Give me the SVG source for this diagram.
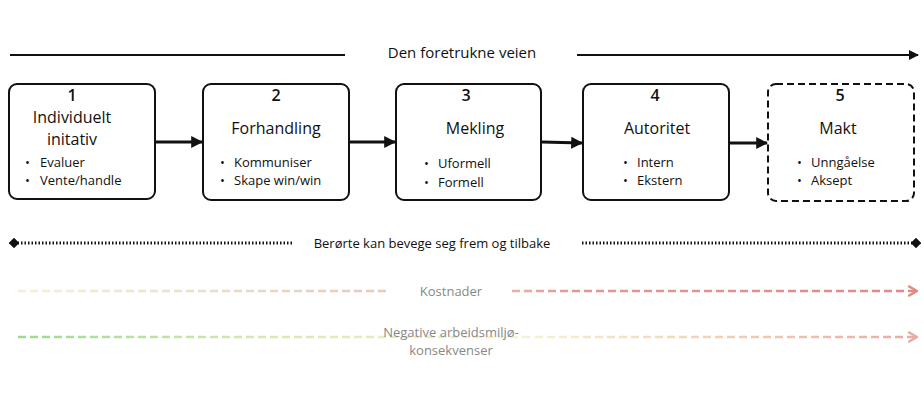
<svg xmlns="http://www.w3.org/2000/svg" width="924" height="400" viewBox="0 0 924 400">
<style>
text{font-family:"Open Sans","Liberation Sans",sans-serif;fill:#111}
.box{fill:#fff;stroke:#111;stroke-width:2}
.num{font-size:16px;text-anchor:middle;font-weight:600}
.title{font-size:16px;text-anchor:middle;font-weight:500}
.li{font-size:13px;font-weight:500}
.conn{stroke:#111;stroke-width:3;fill:none}
.gray{fill:#888;font-size:13px;text-anchor:middle}
</style>
<defs>
<marker id="ah" viewBox="0 0 10 10" refX="9" refY="5" markerWidth="4" markerHeight="4" orient="auto"><path d="M0,0L10,5L0,10z" fill="#111"/></marker>
<marker id="ah2" viewBox="0 0 10 10" refX="9" refY="5" markerWidth="5" markerHeight="5" orient="auto"><path d="M0,0L10,5L0,10z" fill="#111"/></marker>
<marker id="dia" viewBox="0 0 10 10" refX="5" refY="5" markerWidth="3.5" markerHeight="3.5" orient="auto"><path d="M0,5L5,0L10,5L5,10z" fill="#111"/></marker>
<marker id="ch1" viewBox="0 0 10 10" refX="9" refY="5" markerWidth="5" markerHeight="5" orient="auto"><path d="M2,1L9,5L2,9" fill="none" stroke="#e08a82" stroke-width="2"/></marker>
<marker id="ch2" viewBox="0 0 10 10" refX="9" refY="5" markerWidth="5" markerHeight="5" orient="auto"><path d="M2,1L9,5L2,9" fill="none" stroke="#eaaaa3" stroke-width="2"/></marker>
<linearGradient id="g1" gradientUnits="userSpaceOnUse" x1="18" y1="0" x2="390" y2="0"><stop offset="0" stop-color="#f8f0d6"/><stop offset="1" stop-color="#e9c7b3"/></linearGradient>
<linearGradient id="g2" gradientUnits="userSpaceOnUse" x1="512" y1="0" x2="918" y2="0"><stop offset="0" stop-color="#e7b0a2"/><stop offset="0.15" stop-color="#e29a8e"/><stop offset="1" stop-color="#e08a82"/></linearGradient>
<linearGradient id="g3" gradientUnits="userSpaceOnUse" x1="18" y1="0" x2="530" y2="0"><stop offset="0" stop-color="#9bdc8e"/><stop offset="0.5" stop-color="#d8eab0"/><stop offset="1" stop-color="#f6f2cf"/></linearGradient>
<linearGradient id="g4" gradientUnits="userSpaceOnUse" x1="535" y1="0" x2="918" y2="0"><stop offset="0" stop-color="#f6f0d0"/><stop offset="0.5" stop-color="#f0d0b6"/><stop offset="1" stop-color="#eaaaa3"/></linearGradient>
</defs>
<g id="header">
<line x1="10" y1="55" x2="345" y2="55" stroke="#111" stroke-width="2"/>
<text x="462" y="58" font-size="15" font-weight="500" text-anchor="middle">Den foretrukne veien</text>
<line x1="577" y1="55" x2="918" y2="55" stroke="#111" stroke-width="2" marker-end="url(#ah2)"/>
</g>
<g id="n1"><rect class="box" x="9" y="84" width="146" height="115" rx="8"/>
<text class="num" x="72" y="101">1</text>
<text class="title" x="72" y="123">Individuelt</text><text class="title" x="72" y="145">initativ</text>
<text class="li" x="25" y="167">•</text><text class="li" x="40" y="167">Evaluer</text>
<text class="li" x="25" y="185">•</text><text class="li" x="40" y="185">Vente/handle</text></g>
<g id="n2"><rect class="box" x="203" y="84" width="146" height="116" rx="8"/>
<text class="num" x="276" y="101">2</text>
<text class="title" x="276" y="134">Forhandling</text>
<text class="li" x="220" y="167">•</text><text class="li" x="234" y="167">Kommuniser</text>
<text class="li" x="220" y="185">•</text><text class="li" x="234" y="185">Skape win/win</text></g>
<g id="n3"><rect class="box" x="396" y="84" width="145" height="116" rx="8"/>
<text class="num" x="466" y="101">3</text>
<text class="title" x="475" y="134">Mekling</text>
<text class="li" x="424" y="168">•</text><text class="li" x="438" y="168">Uformell</text>
<text class="li" x="424" y="187">•</text><text class="li" x="438" y="187">Formell</text></g>
<g id="n4"><rect class="box" x="583" y="84" width="146" height="116" rx="8"/>
<text class="num" x="655" y="101">4</text>
<text class="title" x="657" y="134">Autoritet</text>
<text class="li" x="623" y="167">•</text><text class="li" x="637" y="167">Intern</text>
<text class="li" x="623" y="185">•</text><text class="li" x="637" y="185">Ekstern</text></g>
<g id="n5"><rect class="box" x="768" y="84" width="146" height="117" rx="8" stroke-dasharray="7 4"/>
<text class="num" x="840" y="101">5</text>
<text class="title" x="838" y="134">Makt</text>
<text class="li" x="797" y="167">•</text><text class="li" x="811" y="167">Unngåelse</text>
<text class="li" x="797" y="185">•</text><text class="li" x="811" y="185">Aksept</text></g>
<g id="connectors">
<line class="conn" x1="156" y1="142" x2="202" y2="142" marker-end="url(#ah)"/>
<line class="conn" x1="350" y1="142" x2="395" y2="142" marker-end="url(#ah)"/>
<line class="conn" x1="542" y1="142" x2="582" y2="143" marker-end="url(#ah)"/>
<line class="conn" x1="730" y1="143" x2="767" y2="143" marker-end="url(#ah)"/>
</g>
<g id="bottom">
<line x1="14" y1="243" x2="294" y2="243" stroke="#111" stroke-width="3" stroke-dasharray="1.5 2" marker-start="url(#dia)"/>
<text x="432" y="248" font-size="13" font-weight="500" text-anchor="middle">Berørte kan bevege seg frem og tilbake</text>
<line x1="582" y1="243" x2="916" y2="243" stroke="#111" stroke-width="3" stroke-dasharray="1.5 2" marker-end="url(#dia)"/>
<line x1="18" y1="291" x2="390" y2="291" stroke="url(#g1)" stroke-width="2.5" stroke-dasharray="8 4"/>
<text class="gray" x="451" y="296">Kostnader</text>
<line x1="512" y1="291" x2="917" y2="291" stroke="url(#g2)" stroke-width="2.5" stroke-dasharray="8 4" marker-end="url(#ch1)"/>
<line x1="18" y1="337" x2="530" y2="337" stroke="url(#g3)" stroke-width="2.5" stroke-dasharray="8 4"/>
<text class="gray" x="451" y="337">Negative arbeidsmiljø-</text>
<text class="gray" x="451" y="355">konsekvenser</text>
<line x1="535" y1="337" x2="917" y2="337" stroke="url(#g4)" stroke-width="2.5" stroke-dasharray="8 4" marker-end="url(#ch2)"/>
</g>
</svg>
